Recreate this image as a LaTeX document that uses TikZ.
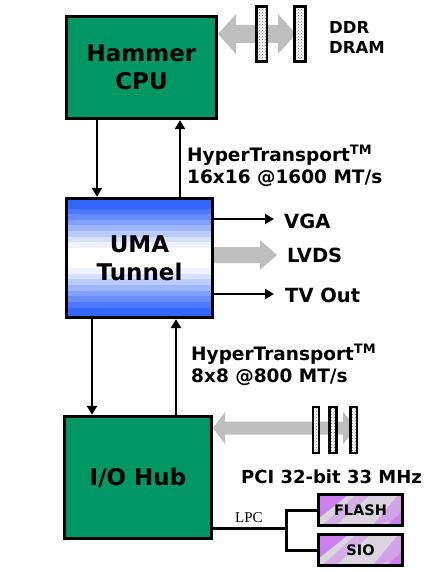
\documentclass[tikz,border=0pt]{standalone}
\usepackage{fontspec}
\setmainfont{DejaVu Sans}
\newfontfamily\lpcfont{Liberation Serif}
\usetikzlibrary{arrows.meta,patterns}
\definecolor{hgreen}{RGB}{0,150,102}
\definecolor{umablue}{RGB}{51,102,255}
\definecolor{arrgray}{RGB}{190,190,190}
\definecolor{chipgray}{RGB}{218,213,222}
\definecolor{chippurple}{RGB}{204,128,240}
\begin{document}
\begin{tikzpicture}[x=1pt,y=-1pt,
  box/.style={draw=black, line width=3.3pt, inner sep=0pt, align=center,
    font=\fontsize{23}{28}\selectfont\bfseries},
  greenbox/.style={box, fill=hgreen},
  umabox/.style={box},
  chip/.style={draw=black, line width=3pt, fill=chipgray, inner sep=0pt,
    minimum width=84pt, minimum height=31pt,
    font=\fontsize{14.5}{16}\selectfont\bfseries,
    path picture={
      \fill[chippurple] (path picture bounding box.north west)
        -- ([xshift=30pt]path picture bounding box.north west)
        -- ([yshift=-24pt]path picture bounding box.north west) -- cycle;
      \fill[chippurple!45!chipgray] ([xshift=38pt]path picture bounding box.north west)
        -- ([xshift=52pt]path picture bounding box.north west)
        -- ([xshift=14pt,yshift=-34pt]path picture bounding box.north west)
        -- ([xshift=0pt,yshift=-34pt]path picture bounding box.north west) -- cycle;
      \fill[chippurple!60!chipgray] ([xshift=-4pt]path picture bounding box.north east)
        -- (path picture bounding box.north east)
        -- ([yshift=6pt]path picture bounding box.south east)
        -- ([xshift=-30pt]path picture bounding box.south east) -- cycle;
      \fill[chippurple] (path picture bounding box.south east)
        -- ([xshift=-16pt]path picture bounding box.south east)
        -- ([yshift=14pt]path picture bounding box.south east) -- cycle;
    }},
  dimm/.style={draw=black, line width=2.5pt, inner sep=0pt,
    preaction={fill=white}, pattern=crosshatch dots, pattern color=black!55},
  link/.style={line width=2.2pt, -{Triangle[width=10pt,length=9pt]}},
  bigarrow/.style={fill=arrgray, draw=none},
  bus/.style={line width=3pt},
  lbl/.style={anchor=west, inner sep=0pt, align=left},
  htfont/.style={font=\fontsize{18.5}{22}\selectfont\bfseries},
  iofont/.style={font=\fontsize{19.5}{22}\selectfont\bfseries}
]
\useasboundingbox (0,0) rectangle (429,572);

% ---------- gray bus arrows ----------
\fill[bigarrow] (218,34) -- (236,14) -- (236,25) -- (278,25) -- (278,14) -- (296,34)
  -- (278,54) -- (278,43) -- (236,43) -- (236,54) -- cycle;
\fill[bigarrow] (213,428) -- (225,412) -- (225,421.5) -- (343,421.5) -- (343,412) -- (357,428)
  -- (343,444) -- (343,434.5) -- (225,434.5) -- (225,444) -- cycle;
\fill[bigarrow] (214,247) -- (260,247) -- (260,240) -- (277,255) -- (260,270) -- (260,263)
  -- (214,263) -- cycle;

% ---------- memory / PCI slots ----------
\node[dimm, minimum width=10.5pt, minimum height=55pt] (d1) at (261.5,34) {};
\node[dimm, minimum width=11pt, minimum height=55pt] (d2) at (300,34) {};
\node[dimm, minimum width=6pt, minimum height=46pt] (p1) at (316,430) {};
\node[dimm, minimum width=7pt, minimum height=46pt] (p2) at (333,430) {};
\node[dimm, minimum width=6.5pt, minimum height=46pt] (p3) at (353.5,430) {};

% ---------- UMA stripes ----------
\fill[umablue] (66.5,198.5) rectangle (212.5,208.8);
\fill[umablue] (66.5,307.2) rectangle (212.5,317.5);
\foreach \p [count=\i from 0] in {88,75,62,48,34,20,8} {
  \fill[umablue!\p!white] (66.5,{208.5+5.65*\i}) rectangle (212.5,{208.5+5.65*(\i+1)+0.3});
  \fill[umablue!\p!white] (66.5,{307.5-5.65*\i}) rectangle (212.5,{307.5-5.65*(\i+1)-0.3});
}

% ---------- main boxes ----------
\node[greenbox, minimum width=150pt, minimum height=102pt] (cpu) at (141.5,67.5) {Hammer\\CPU};
\node[umabox, minimum width=146pt, minimum height=119pt] (uma) at (139.5,258) {UMA\\Tunnel};
\node[greenbox, minimum width=147pt, minimum height=122pt] (io) at (138,477.5) {I/O Hub};
\node[chip] (flash) at (360.5,510) {FLASH};
\node[chip] (sio) at (360.5,550) {SIO};

% ---------- HyperTransport links ----------
\coordinate (xa) at (97,0);
\coordinate (xb) at (180,0);
\coordinate (xc) at (92,0);
\coordinate (xd) at (176,0);
\draw[link] (cpu.south -| xa) -- (uma.north -| xa);
\draw[link] (uma.north -| xb) -- (cpu.south -| xb);
\draw[link] (uma.south -| xc) -- (io.north -| xc);
\draw[link] (io.north -| xd) -- (uma.south -| xd);

% ---------- video outputs ----------
\coordinate (vgaT) at (274,219);
\coordinate (tvT) at (274,294);
\draw[link] (uma.east |- vgaT) -- (vgaT);
\draw[link] (uma.east |- tvT) -- (tvT);

% ---------- LPC ----------
\coordinate (lpcS) at (211.5,528);
\coordinate (br) at (286,528);
\draw[bus] (lpcS) -- (br);
\draw[bus] (flash.west) -| (br);
\draw[bus] (sio.west) -| (br);

% ---------- labels ----------
\node[lbl, htfont] (ht1) at (187,166) {HyperTransport\textsuperscript{TM}\\16x16 @1600 MT/s};
\node[lbl, htfont] (ht2) at (191,365) {HyperTransport\textsuperscript{TM}\\8x8 @800 MT/s};
\node[lbl, font=\fontsize{16.5}{20}\selectfont\bfseries] (ddr) at (329,37) {DDR\\DRAM};
\node[lbl, iofont] (vga) at (284,221) {VGA};
\node[lbl, iofont] (lvds) at (287,255) {LVDS};
\node[lbl, iofont] (tv) at (285,295) {TV Out};
\node[lbl, font=\fontsize{18}{20}\selectfont\bfseries] (pci) at (241,477) {PCI 32-bit 33 MHz};
\node[lbl, font=\fontsize{15}{15}\selectfont\lpcfont] (lpc) at (235,518) {LPC};
\end{tikzpicture}
\end{document}
